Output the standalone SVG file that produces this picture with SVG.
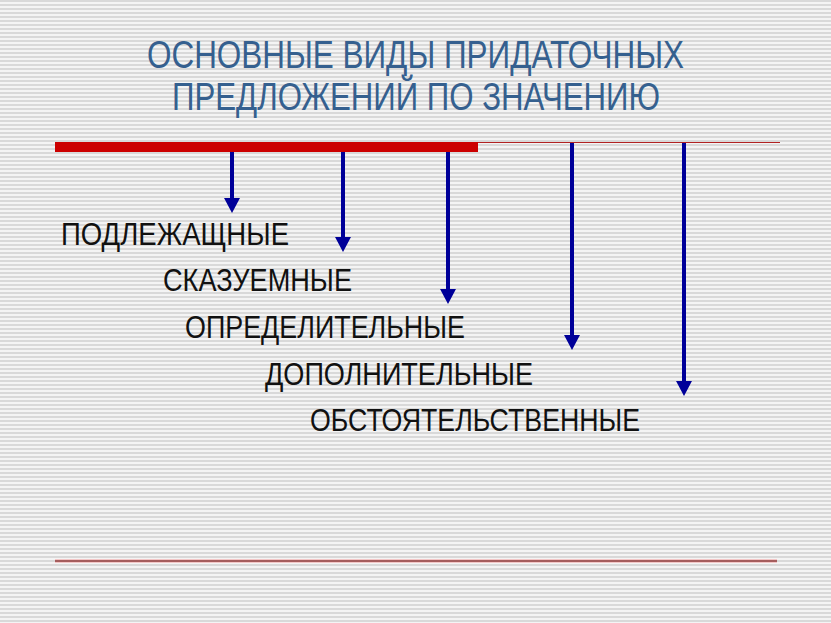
<svg xmlns="http://www.w3.org/2000/svg" width="831" height="623" viewBox="0 0 831 623">
<defs>
<pattern id="stripes" width="8" height="4" patternUnits="userSpaceOnUse">
<rect width="8" height="4" fill="#f4f4f4"/>
<rect y="0" width="8" height="2" fill="#d9d9d9"/>
</pattern>
<style>
.title{font-family:"Liberation Sans",Arial,sans-serif;font-size:39px;fill:#35608f}
.lbl{font-family:"Liberation Sans",Arial,sans-serif;font-size:32px;fill:#111111}
.arr{stroke:#000099;stroke-width:4;fill:none}
.head{fill:#000099}
</style>
</defs>
<rect width="831" height="623" fill="url(#stripes)"/>
<g id="title">
<text class="title" x="147" y="68" textLength="537" lengthAdjust="spacingAndGlyphs">ОСНОВНЫЕ ВИДЫ ПРИДАТОЧНЫХ</text>
<text class="title" x="172" y="110" textLength="488" lengthAdjust="spacingAndGlyphs">ПРЕДЛОЖЕНИЙ ПО ЗНАЧЕНИЮ</text>
</g>
<g id="bar">
<rect x="55" y="142" width="423" height="10" fill="#cc0000"/>
<line x1="478" y1="142.5" x2="780" y2="142.5" stroke="#b22222" stroke-width="1.2"/>
</g>
<g id="connectors">
<line class="arr" x1="232" y1="152" x2="232" y2="198"/>
<path class="head" d="M224,198 L240,198 L232,213 Z"/>
<line class="arr" x1="343" y1="152" x2="343" y2="237"/>
<path class="head" d="M335,237 L351,237 L343,252 Z"/>
<line class="arr" x1="448" y1="152" x2="448" y2="289"/>
<path class="head" d="M440,289 L456,289 L448,304 Z"/>
<line class="arr" x1="572" y1="143" x2="572" y2="335"/>
<path class="head" d="M564,335 L580,335 L572,350 Z"/>
<line class="arr" x1="684" y1="143" x2="684" y2="381"/>
<path class="head" d="M676,381 L692,381 L684,396 Z"/>
</g>
<g id="n1"><text class="lbl" x="61" y="245" textLength="228" lengthAdjust="spacingAndGlyphs">ПОДЛЕЖАЩНЫЕ</text></g>
<g id="n2"><text class="lbl" x="163" y="291" textLength="189" lengthAdjust="spacingAndGlyphs">СКАЗУЕМНЫЕ</text></g>
<g id="n3"><text class="lbl" x="185" y="338" textLength="280" lengthAdjust="spacingAndGlyphs">ОПРЕДЕЛИТЕЛЬНЫЕ</text></g>
<g id="n4"><text class="lbl" x="265" y="385" textLength="268" lengthAdjust="spacingAndGlyphs">ДОПОЛНИТЕЛЬНЫЕ</text></g>
<g id="n5"><text class="lbl" x="310" y="431" textLength="330" lengthAdjust="spacingAndGlyphs">ОБСТОЯТЕЛЬСТВЕННЫЕ</text></g>
<g id="bottom-rule">
<line x1="55" y1="561" x2="777" y2="561" stroke="#f3c8c8" stroke-width="4"/>
<line x1="55" y1="561" x2="777" y2="561" stroke="#8b3a3a" stroke-width="1.5"/>
</g>
</svg>
